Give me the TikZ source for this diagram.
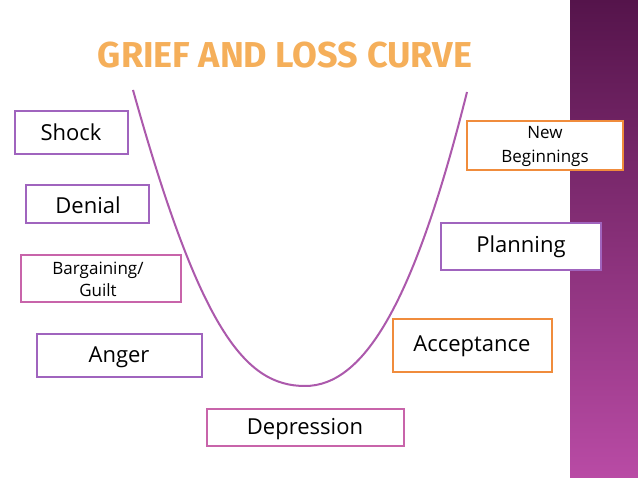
\documentclass[tikz,border=0pt]{standalone}
\usepackage{fontspec}
\setmainfont{Open Sans}
\newfontfamily\titlefont{Fira Sans}
\begin{document}
\begin{tikzpicture}[x=1pt,y=-1pt,
  stage/.style={draw=#1,line width=1.6pt,fill=white,inner sep=0pt},
  lbl/.style={font=\fontsize{22}{24}\selectfont,align=center,inner sep=0pt}]
\useasboundingbox (0,0) rectangle (638,478);
\fill[white] (0,0) rectangle (638,478);
\definecolor{bartop}{RGB}{85,20,75}
\definecolor{barbot}{RGB}{185,75,165}
\shade[top color=bartop, bottom color=barbot] (570,0) rectangle (638,478);
\definecolor{ttl}{RGB}{245,175,90}
\node[font=\titlefont\bfseries\fontsize{36}{38}\selectfont,text=ttl] (title) at (285,55) {GRIEF AND LOSS CURVE};
\draw[line width=2pt,color=violet!65!white] (133,90) .. controls (200,330) and (245,386) .. (305,386) .. controls (365,386) and (415,300) .. (467,92);
\definecolor{pur}{RGB}{160,100,190}
\definecolor{pnk}{RGB}{200,100,170}
\definecolor{org}{RGB}{240,140,60}
\draw[stage=pur] (15,111) rectangle (128,154); \node[lbl] (shock) at (71,132) {Shock};
\draw[stage=pur] (26,185) rectangle (149,223); \node[lbl] (denial) at (88,205) {Denial};
\draw[stage=pnk] (21,255) rectangle (181,302); \node[lbl,font=\fontsize{17}{22}\selectfont] (barg) at (98,279) {Bargaining/\\Guilt};
\draw[stage=pur] (37,334) rectangle (202,377); \node[lbl] (anger) at (119,357) {Anger};
\draw[stage=pnk] (207,409) rectangle (404,446); \node[lbl] (dep) at (305,429) {Depression};
\draw[stage=org] (393,319) rectangle (552,372); \node[lbl] (acc) at (472,346) {Acceptance};
\draw[stage=pur] (441,223) rectangle (601,270); \node[lbl] (plan) at (521,247) {Planning};
\draw[stage=org] (467,121) rectangle (623,170); \node[lbl,font=\fontsize{17}{24}\selectfont] (newb) at (545,146) {New\\Beginnings};
\end{tikzpicture}
\end{document}
